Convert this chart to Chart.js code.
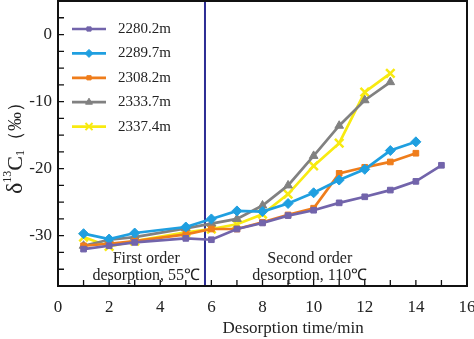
<!DOCTYPE html>
<html>
<head>
<meta charset="utf-8">
<script src="https://cdn.jsdelivr.net/npm/chart.js@4/dist/chart.umd.min.js"></script>
<style>
    body { margin: 0; background: #fff; }
    #wrap { width: 474px; height: 339px; }
</style>
</head>
<body>
<div id="wrap"><canvas id="grafico" width="474" height="339"></canvas></div>
<script>
// tiempos de desorción (min)
const tiempos = [1, 2, 3, 5, 6, 7, 8, 9, 10, 11, 12, 13, 14, 15];
// profundidades (leyenda)
const profundidades = ['2280.2m', '2289.7m', '2308.2m', '2333.7m', '2337.4m'];
// valores δ13C1 (‰) por profundidad
const d2280 = [-32.0, -31.5, -31.0, -30.4, -30.6, -29.0, -28.1, -27.0, -26.2, -25.1, -24.2, -23.2, -21.9, -19.5];
const d2289 = [-29.7, -30.5, -29.6, -28.7, -27.5, -26.3, -26.4, -25.2, -23.6, -21.7, -20.1, -17.3, -16.0];
const d2308 = [-31.5, -31.2, -30.8, -29.8, -29.0, -29.0, -28.0, -26.9, -25.9, -20.7, -19.8, -19.0, -17.7];
const d2333 = [-31.5, -30.6, -30.2, -28.9, -28.2, -27.5, -25.5, -22.5, -18.1, -13.6, -9.8, -7.1];
const d2337 = [-30.2, -31.6, -30.8, -29.5, -29.0, -28.3, -26.8, -23.8, -19.6, -16.2, -8.6, -5.8];
// límite entre la primera y segunda desorción
const limite = 5.75;
const etiquetaPrimera = ['First order', 'desorption, 55℃'];
const etiquetaSegunda = ['Second order', 'desorption, 110℃'];
const tituloX = 'Desorption time/min';

const serie = (valores) => valores.map((v, i) => ({ x: tiempos[i], y: v }));

const estilos = [
    { color: '#7264ab', punto: 'rect', radio: 4 },
    { color: '#1f9fe0', punto: 'rectRot', radio: 5 },
    { color: '#ef7d1b', punto: 'rect', radio: 4 },
    { color: '#818181', punto: 'triangle', radio: 5 },
    { color: '#f8ea10', punto: 'crossRot', radio: 6 }
];
const valores = [d2280, d2289, d2308, d2333, d2337];

const datasets = valores.map((v, i) => ({
    label: profundidades[i],
    data: serie(v),
    borderColor: estilos[i].color,
    backgroundColor: estilos[i].color,
    borderWidth: 2.7,
    pointStyle: estilos[i].punto,
    pointRadius: estilos[i].radio,
    pointBorderWidth: estilos[i].punto === 'crossRot' ? 2.5 : 1,
    tension: 0
}));
// línea vertical
datasets.push({
    label: 'limite',
    data: [{ x: limite, y: 5 }, { x: limite, y: -37.5 }],
    borderColor: '#2d2d94',
    borderWidth: 2,
    pointRadius: 0
});

const serif = '"Liberation Serif", "Times New Roman", serif';

// marco, ticks hacia adentro, leyenda y textos
const extras = {
    id: 'extras',
    afterDraw(chart) {
        const ctx = chart.ctx;
        const a = chart.chartArea;
        const sx = chart.scales.x, sy = chart.scales.y;
        ctx.save();
        ctx.strokeStyle = '#111';
        ctx.lineWidth = 2;
        ctx.strokeRect(a.left, a.top, a.right - a.left, a.bottom - a.top);
        ctx.lineWidth = 1.3;
        ctx.beginPath();
        for (let v = 1; v < 16; v++) {
            const px = sx.getPixelForValue(v);
            ctx.moveTo(px, a.bottom); ctx.lineTo(px, a.bottom - 6);
        }
        for (let v = -35; v < 5; v += 2.5) {
            const py = sy.getPixelForValue(v);
            ctx.moveTo(a.left, py); ctx.lineTo(a.left + 6, py);
        }
        ctx.stroke();

        // leyenda
        ctx.font = '15px ' + serif;
        ctx.textBaseline = 'middle';
        ctx.textAlign = 'left';
        profundidades.forEach((p, i) => {
            const y = a.top + 28 + i * 24.4;
            const e = estilos[i];
            ctx.strokeStyle = e.color;
            ctx.fillStyle = e.color;
            ctx.lineWidth = 2.7;
            ctx.beginPath();
            ctx.moveTo(a.left + 14, y); ctx.lineTo(a.left + 48, y);
            ctx.stroke();
            ctx.lineWidth = e.punto === 'crossRot' ? 2 : 1;
            Chart.helpers.drawPoint(ctx, { pointStyle: e.punto, radius: e.radio - 1, rotation: 0, borderWidth: ctx.lineWidth }, a.left + 31, y);
            ctx.fillStyle = '#222';
            ctx.fillText(p, a.left + 60, y);
        });

        // textos de desorción
        ctx.fillStyle = '#222';
        ctx.font = '16px ' + serif;
        ctx.textAlign = 'center';
        const x1 = sx.getPixelForValue(3.45), x2 = sx.getPixelForValue(9.85);
        ctx.fillText(etiquetaPrimera[0], x1, a.bottom - 27);
        ctx.fillText(etiquetaPrimera[1], x1, a.bottom - 10);
        ctx.fillText(etiquetaSegunda[0], x2, a.bottom - 27);
        ctx.fillText(etiquetaSegunda[1], x2, a.bottom - 10);

        // título eje x
        ctx.font = '17px ' + serif;
        ctx.fillText(tituloX, sx.getPixelForValue(9.2), 329);

        // título eje y con superíndice y subíndice
        ctx.translate(16, (a.top + a.bottom) / 2);
        ctx.rotate(-Math.PI / 2);
        const partes = [
            { t: 'δ', f: '24px ', dy: 0 },
            { t: '13', f: '12px ', dy: -8 },
            { t: 'C', f: '22px ', dy: 0 },
            { t: '1', f: '12px ', dy: 5 },
            { t: '（‰）', f: '19px ', dy: 0 }
        ];
        let ancho = 0;
        partes.forEach(p => { ctx.font = p.f + serif; ancho += ctx.measureText(p.t).width; });
        let x = -ancho / 2;
        ctx.textAlign = 'left';
        partes.forEach(p => {
            ctx.font = p.f + serif;
            ctx.fillText(p.t, x, p.dy);
            x += ctx.measureText(p.t).width;
        });
        ctx.restore();
    }
};

new Chart(document.getElementById('grafico').getContext('2d'), {
    type: 'line',
    data: { datasets: datasets },
    options: {
        responsive: false,
        animation: false,
        layout: { autoPadding: false, padding: { top: 1, right: 7, left: 0, bottom: 0 } },
        plugins: { legend: { display: false }, tooltip: { enabled: false } },
        scales: {
            x: {
                type: 'linear',
                min: 0,
                max: 16,
                grid: { display: false, drawTicks: false },
                border: { display: false },
                ticks: {
                    stepSize: 2,
                    padding: 11,
                    color: '#222',
                    font: { family: serif, size: 17 }
                },
                afterFit(s) { s.height = 53; s.paddingLeft = 0; s.paddingRight = 0; }
            },
            y: {
                min: -37.5,
                max: 5,
                grid: { display: false, drawTicks: false },
                border: { display: false },
                ticks: {
                    stepSize: 2.5,
                    autoSkip: false,
                    padding: 6,
                    color: '#222',
                    font: { family: serif, size: 17 },
                    callback: (v) => (Math.abs(v % 10) < 0.001 ? v : '')
                },
                afterFit(s) { s.width = 58; s.paddingTop = 0; s.paddingBottom = 0; }
            }
        }
    },
    plugins: [extras]
});
</script>
</body>
</html>
